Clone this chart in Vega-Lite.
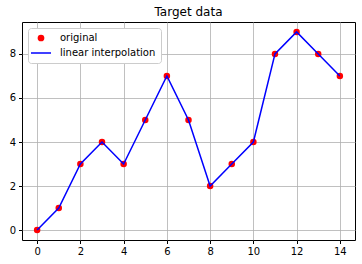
{
  "$schema": "https://vega.github.io/schema/vega-lite/v6.json",
  "width": 333,
  "height": 218,
  "autosize": {"type": "none"},
  "padding": {"left": 22, "top": 22, "right": 7, "bottom": 24},
  "background": "white",
  "title": {"text": "Target data", "fontSize": 12, "font": "DejaVu Sans", "fontWeight": "normal", "color": "black", "offset": 3},
  "config": {
    "view": {"stroke": "black", "strokeWidth": 1},
    "axis": {
      "labelFont": "DejaVu Sans", "labelFontSize": 10, "labelColor": "black",
      "domain": false, "tickColor": "black", "tickSize": 3.5, "labelPadding": 3,
      "gridColor": "#b0b0b0", "gridWidth": 0.8, "title": null
    },
    "legend": {
      "labelFont": "DejaVu Sans", "labelFontSize": 10, "labelColor": "black",
      "strokeColor": "#cccccc", "fillColor": "white", "cornerRadius": 3, "padding": 5,
      "rowPadding": 5, "symbolSize": 100, "symbolOffset": 3, "labelOffset": 14
    }
  },
  "data": {"values": [
    {"x": 0, "y": 0}, {"x": 1, "y": 1}, {"x": 2, "y": 3}, {"x": 3, "y": 4},
    {"x": 4, "y": 3}, {"x": 5, "y": 5}, {"x": 6, "y": 7}, {"x": 7, "y": 5},
    {"x": 8, "y": 2}, {"x": 9, "y": 3}, {"x": 10, "y": 4}, {"x": 11, "y": 8},
    {"x": 12, "y": 9}, {"x": 13, "y": 8}, {"x": 14, "y": 7}
  ]},
  "encoding": {
    "x": {"field": "x", "type": "quantitative",
      "scale": {"domain": [-0.7, 14.7], "nice": false, "zero": false},
      "axis": {"values": [0, 2, 4, 6, 8, 10, 12, 14], "grid": true}},
    "y": {"field": "y", "type": "quantitative",
      "scale": {"domain": [-0.45, 9.45], "nice": false, "zero": false},
      "axis": {"values": [0, 2, 4, 6, 8], "grid": true}}
  },
  "layer": [
    {
      "mark": {"type": "point", "filled": true, "opacity": 1, "size": 42},
      "encoding": {
        "color": {"datum": "original", "type": "nominal",
          "scale": {"domain": ["original", "linear interpolation"], "range": ["red", "blue"]},
          "legend": {
            "title": null, "orient": "top-left", "offset": 6,
            "encode": {
              "symbols": {"update": {
                "shape": {"signal": "datum.value === 'original' ? 'circle' : 'stroke'"},
                "fill": {"signal": "datum.value === 'original' ? 'red' : 'transparent'"},
                "stroke": {"signal": "datum.value === 'original' ? 'red' : 'blue'"},
                "strokeWidth": {"signal": "datum.value === 'original' ? 0 : 1.5"},
                "size": {"signal": "datum.value === 'original' ? 45 : 400"}
              }}
            }
          }}
      }
    },
    {
      "mark": {"type": "line", "strokeWidth": 1.5},
      "encoding": {
        "color": {"datum": "linear interpolation", "type": "nominal",
          "legend": {
            "title": null, "orient": "top-left", "offset": 6,
            "encode": {
              "symbols": {"update": {
                "shape": {"signal": "datum.value === 'original' ? 'circle' : 'stroke'"},
                "fill": {"signal": "datum.value === 'original' ? 'red' : 'transparent'"},
                "stroke": {"signal": "datum.value === 'original' ? 'red' : 'blue'"},
                "strokeWidth": {"signal": "datum.value === 'original' ? 0 : 1.5"},
                "size": {"signal": "datum.value === 'original' ? 45 : 400"}
              }}
            }
          }}
      }
    }
  ]
}
